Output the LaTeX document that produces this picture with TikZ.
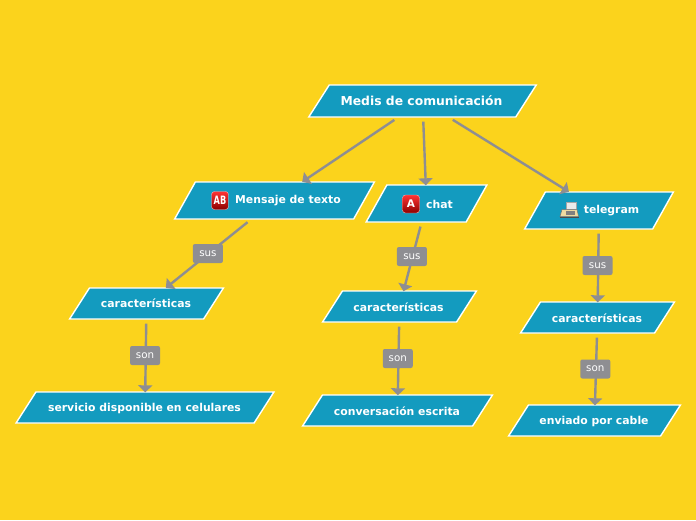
\documentclass[tikz,border=0pt]{standalone}
\usepackage{fontspec}
\setmainfont{DejaVu Sans}
\usetikzlibrary{arrows.meta}

\definecolor{fondo}{HTML}{FBD31C}
\definecolor{azul}{HTML}{139BBF}
\definecolor{gris}{HTML}{8E8E92}

\tikzset{
  cajabase/.style={draw=white,fill=azul,line width=1.4pt,transform shape,inner sep=0pt},
  caja/.style={cajabase,minimum height=31pt,xslant=0.64},
  cajaalta/.style={cajabase,minimum height=37pt,xslant=0.56},
  texto/.style={text=white,font=\bfseries\fontsize{10.85}{13}\selectfont,inner sep=0pt},
  enlace/.style={color=gris,line width=2.4pt,shorten <=4pt,shorten >=-1pt,-{Triangle[width=14pt,length=7pt]}},
  verbo/.style={fill=gris,rounded corners=2pt,text=white,minimum width=30pt,minimum height=19pt,inner sep=0pt,xshift=-.7pt,font=\fontsize{10.3}{12}\selectfont},
  icono/.style={draw=red!30!white,line width=.4pt,rounded corners=3pt,top color=red!80!white,bottom color=red!55!black,text=white,minimum width=17pt,minimum height=18pt,inner sep=0pt,font=\bfseries\fontsize{10.5}{12}\selectfont},
}

\begin{document}
\begin{tikzpicture}[x=1pt,y=-1pt]
   \path[use as bounding box,fill=fondo] (0,0) rectangle (696,520);

   \draw (422.5,101) node[caja,minimum width=207pt,minimum height=32pt] (medios) {};
   \draw (274.5,200.5) node[cajaalta,minimum width=179pt] (mensaje) {};
   \draw (426.5,203.5) node[cajaalta,minimum width=100pt] (chat) {};
   \draw (599,210.5) node[cajaalta,minimum width=128pt] (telegram) {};

   \draw (146.5,303.5) node[caja,minimum width=134pt] (carac1) {};
   \draw (399.5,306.5) node[caja,minimum width=134pt] (carac2) {};
   \draw (597.5,317.5) node[caja,minimum width=134pt] (carac3) {};

   \draw (145,407.5) node[caja,minimum width=238pt] (servicio) {};
   \draw (397.5,410.5) node[caja,minimum width=170pt] (conversacion) {};
   \draw (594.5,420.5) node[caja,minimum width=152pt] (cable) {};

   \draw (421.5,101) node[texto,font=\bfseries\fontsize{12.35}{14}\selectfont] (mediosT) {Medis de comunicación};
   \draw (288,201) node[texto] (mensajeT) {Mensaje de texto};
   \draw (439.5,204) node[texto] (chatT) {chat};
   \draw (611.5,211) node[texto] (telegramT) {telegram};
   \draw (146,303.5) node[texto] (carac1T) {características};
   \draw (398.5,307) node[texto] (carac2T) {características};
   \draw (597,318) node[texto] (carac3T) {características};
   \draw (144.5,408) node[texto] (servicioT) {servicio disponible en celulares};
   \draw (397,411) node[texto] (conversacionT) {conversación escrita};
   \draw (594,421) node[texto] (cableT) {enviado por cable};

   \path[enlace] (medios) edge (mensaje);
   \path[enlace] (medios) edge (chat);
   \path[enlace] (medios) edge (telegram);

   \path[enlace] (mensaje) edge node[verbo] (sus1) {sus} (carac1);
   \path[enlace] (chat) edge node[verbo] (sus2) {sus} (carac2);
   \path[enlace] (telegram) edge node[verbo] (sus3) {sus} (carac3);

   \path[enlace] (carac1) edge node[verbo] (son1) {son} (servicio);
   \path[enlace] (carac2) edge node[verbo] (son2) {son} (conversacion);
   \path[enlace] (carac3) edge node[verbo] (son3) {son} (cable);

   % iconos
   \draw (220,200.5) node[icono] (iconoAB) {\scalebox{.78}[1.1]{AB}};
   \draw (411,204) node[icono] (iconoA) {A};

   % fax
   \fill[white!92!black,draw=black!35,line width=.4pt] (566,202) rectangle (576,209.5);
   \fill[black!70] (560,217.5) -- (578.5,217.5) -- (578.5,216.5) -- (560,216.5) -- cycle;
   \fill[yellow!35!brown!45!white,draw=black!55,line width=.5pt] (562,209.5) -- (577,209.5) -- (578.5,216.5) -- (560,216.5) -- cycle;
   \fill[black!50] (566,211) rectangle (575,214.5);
\end{tikzpicture}
\end{document}
